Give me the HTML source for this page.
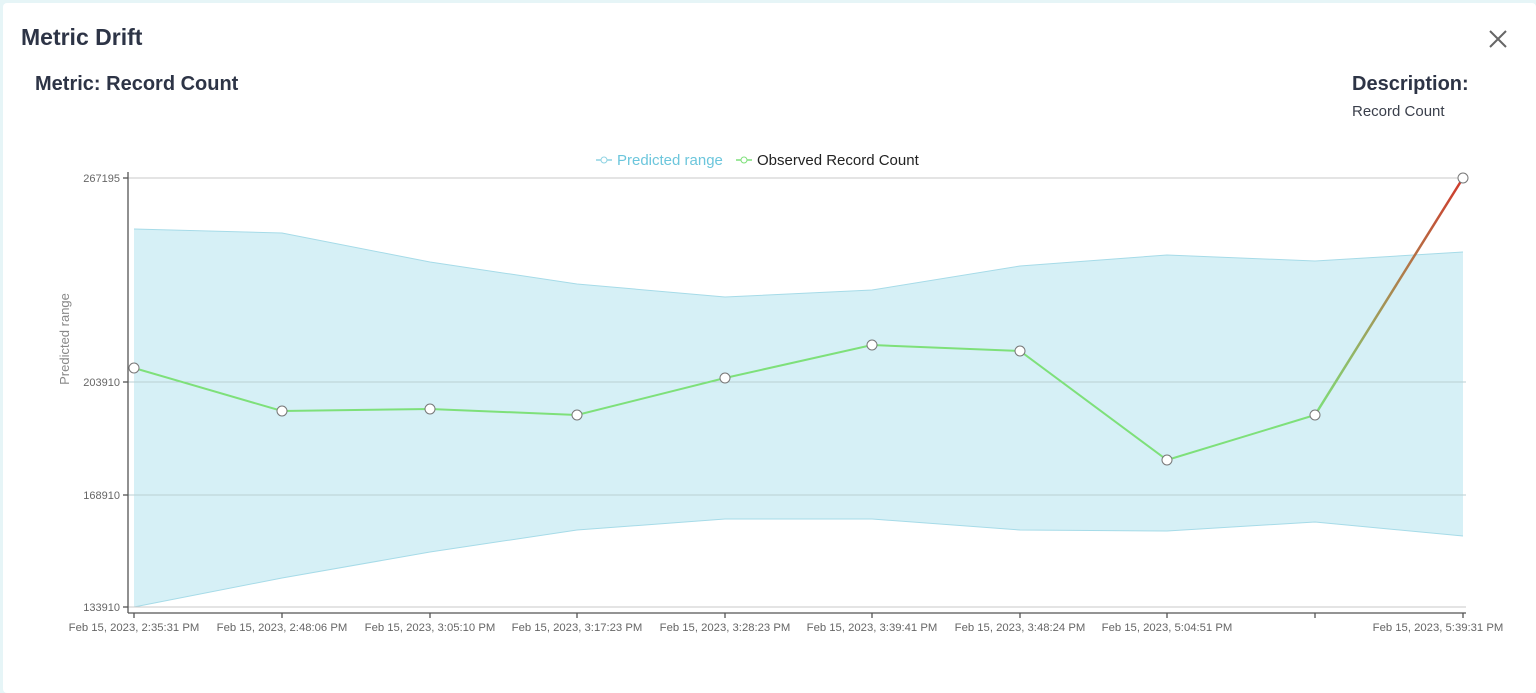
<!DOCTYPE html>
<html><head><meta charset="utf-8"><style>
html,body{margin:0;padding:0;width:1536px;height:686px;overflow:hidden;background:#e6f5f7;font-family:"Liberation Sans",sans-serif;}
.card{position:absolute;left:3px;top:3px;width:1533px;height:690px;background:#fff;border-radius:4px;}
.t1{position:absolute;left:21px;top:24px;font-size:23px;font-weight:bold;color:#2d3446;}
.t2{position:absolute;left:35px;top:73px;font-size:20px;font-weight:bold;color:#2d3446;}
.t3{position:absolute;left:1352px;top:73px;font-size:20px;font-weight:bold;color:#2d3446;}
.t4{position:absolute;left:1352px;top:103px;font-size:15px;color:#3a3f4b;}
svg{position:absolute;left:0;top:0;}
</style></head><body>
<div class="card"></div>
<div class="t1">Metric Drift</div>
<div class="t2">Metric: Record Count</div>
<div class="t3">Description:</div>
<div class="t4">Record Count</div>
<svg width="1536" height="686" font-family="Liberation Sans, sans-serif">
<defs><linearGradient id="g" x1="0" y1="1" x2="0" y2="0"><stop offset="0" stop-color="#7ee07a"/><stop offset="1" stop-color="#d0392b"/></linearGradient></defs>
<path d="M1490,31 l16,16 M1506,31 l-16,16" stroke="#666" stroke-width="2"/>
<polygon points="134,229 282,233 430,262 577,284 725,297 872,290 1020,266 1167,255 1315,261 1463,252 1463,536 1315,522 1167,531 1020,530 872,519 725,519 577,530 430,552 282,578 134,607" fill="#d6f0f6" stroke="none"/>
<polyline points="134,229 282,233 430,262 577,284 725,297 872,290 1020,266 1167,255 1315,261 1463,252" fill="none" stroke="#a6dbe8" stroke-width="1"/>
<polyline points="134,607 282,578 430,552 577,530 725,519 872,519 1020,530 1167,531 1315,522 1463,536" fill="none" stroke="#a6dbe8" stroke-width="1"/>
<g stroke="#c8c8c8" stroke-width="1">
<line x1="128" y1="178" x2="1466" y2="178"/><line x1="128" y1="382" x2="1466" y2="382" stroke="#b9cfd3"/><line x1="128" y1="495" x2="1466" y2="495" stroke="#b9cfd3"/><line x1="128" y1="607" x2="1466" y2="607"/>
</g>
<g stroke="#555" stroke-width="1.3">
<line x1="128" y1="172" x2="128" y2="613"/><line x1="128" y1="613" x2="1466" y2="613"/>
<line x1="123" y1="178" x2="128" y2="178"/><line x1="123" y1="382" x2="128" y2="382"/><line x1="123" y1="495" x2="128" y2="495"/><line x1="123" y1="607" x2="128" y2="607"/>
<path d="M134,613v5M282,613v5M430,613v5M577,613v5M725,613v5M872,613v5M1020,613v5M1167,613v5M1315,613v5M1463,613v5"/>
</g>
<g font-size="11" fill="#666" text-anchor="end">
<text x="120" y="182">267195</text><text x="120" y="386">203910</text><text x="120" y="499">168910</text><text x="120" y="611">133910</text>
</g>
<text transform="translate(69,339) rotate(-90)" font-size="13" fill="#888" text-anchor="middle">Predicted range</text>
<g font-size="11.3" fill="#666" text-anchor="middle">
<text x="134" y="631">Feb 15, 2023, 2:35:31 PM</text><text x="282" y="631">Feb 15, 2023, 2:48:06 PM</text><text x="430" y="631">Feb 15, 2023, 3:05:10 PM</text><text x="577" y="631">Feb 15, 2023, 3:17:23 PM</text><text x="725" y="631">Feb 15, 2023, 3:28:23 PM</text><text x="872" y="631">Feb 15, 2023, 3:39:41 PM</text><text x="1020" y="631">Feb 15, 2023, 3:48:24 PM</text><text x="1167" y="631">Feb 15, 2023, 5:04:51 PM</text><text x="1438" y="631">Feb 15, 2023, 5:39:31 PM</text>
</g>
<polyline points="134,368 282,411 430,409 577,415 725,378 872,345 1020,351 1167,460 1315,415" fill="none" stroke="#7ee07a" stroke-width="2"/>
<line x1="1315" y1="415" x2="1463" y2="178" stroke="url(#g)" stroke-width="2.5"/>
<g fill="#fff" stroke="#777" stroke-width="1">
<circle cx="134" cy="368" r="5"/><circle cx="282" cy="411" r="5"/><circle cx="430" cy="409" r="5"/><circle cx="577" cy="415" r="5"/><circle cx="725" cy="378" r="5"/><circle cx="872" cy="345" r="5"/><circle cx="1020" cy="351" r="5"/><circle cx="1167" cy="460" r="5"/><circle cx="1315" cy="415" r="5"/><circle cx="1463" cy="178" r="5"/>
</g>
<line x1="596" y1="160" x2="612" y2="160" stroke="#8fd3e3" stroke-width="1.5"/><circle cx="604" cy="160" r="3" fill="#fff" stroke="#8fd3e3"/>
<text x="617" y="165" font-size="15" fill="#6cc6dc">Predicted range</text>
<line x1="736" y1="160" x2="752" y2="160" stroke="#7ee07a" stroke-width="1.5"/><circle cx="744" cy="160" r="3" fill="#fff" stroke="#7ee07a"/>
<text x="757" y="165" font-size="15" fill="#222">Observed Record Count</text>
</svg>
</body></html>
